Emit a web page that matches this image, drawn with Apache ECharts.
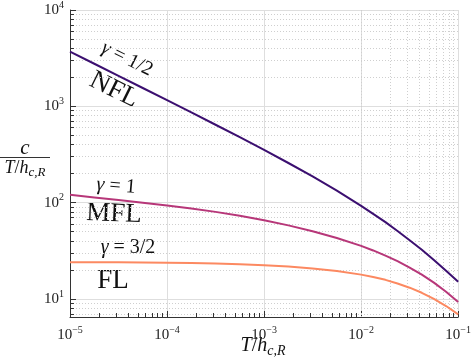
<!DOCTYPE html>
<html><head><meta charset="utf-8">
<script src="https://cdn.jsdelivr.net/npm/echarts@6/dist/echarts.min.js"></script>
<style>html,body{margin:0;padding:0;background:#fff}#c{width:474px;height:364px}</style>
</head><body><div id="c"></div>
<script>
// Data (T/h_{c,R} vs c/(T/h_{c,R}))
const T   = [1e-5, 1.78e-5, 3.16e-5, 5.62e-5, 1e-4, 1.78e-4, 3.16e-4, 5.62e-4, 1e-3, 1.78e-3, 3.16e-3, 5.62e-3,
             1e-2, 1.33e-2, 1.78e-2, 2.37e-2, 3.16e-2, 4.22e-2, 5.62e-2, 7.5e-2, 1e-1];
const NFL = [3690, 2767, 2070, 1549, 1159, 865, 644, 478, 353, 258, 187, 133,
             92.7, 76.6, 62.7, 50.8, 40.7, 32.4, 25.4, 19.6, 15.1];
const MFL = [120.8, 113.4, 106.4, 99.8, 93.3, 86.9, 80.2, 73.1, 65.8, 58.1, 50.4, 42.9,
             35.6, 31.9, 28.2, 24.7, 21.2, 17.9, 14.8, 11.9, 9.31];
const FL  = [24.0, 24.0, 24.0, 23.9, 23.8, 23.7, 23.4, 23.0, 22.4, 21.7, 20.7, 19.5,
             17.9, 16.9, 15.8, 14.5, 13.1, 11.6, 10.0, 8.45, 6.92];
const xMin = 1e-5, xMax = 1e-1, yMin = 6.5, yMax = 1e4;
const xMinor = [];
for (let e = -5; e < -1; e++) for (let k = 2; k <= 9; k++) xMinor.push(k * Math.pow(10, e));
const yMinor = [7, 8, 9];
for (let e = 1; e < 4; e++) for (let k = 2; k <= 9; k++) yMinor.push(k * Math.pow(10, e));

const serif = '"Liberation Serif","DejaVu Serif",serif';
const chart = echarts.init(document.getElementById('c'));
const pow10 = v => {
  const l = Math.log10(v); const r = Math.round(l);
  if (Math.abs(l - r) > 1e-6) return '';
  return '{b|10}{s|' + (r < 0 ? '\u2212' + (-r) : r) + '}';
};
const labRich = {
  b: {fontFamily: serif, fontSize: 15, color: '#222'},
  s: {fontFamily: serif, fontSize: 10, color: '#222', padding: [0, 0, 10, 0]}
};
const gridLines = [];
xMinor.forEach(v => gridLines.push({xAxis: v}));
yMinor.forEach(v => gridLines.push({yAxis: v}));
const tickKx = Math.pow(10, 4 / 98), tickKy = Math.pow(10, 4 / 97);
const minorTicks = [];
xMinor.forEach(v => minorTicks.push([{coord: [v, yMin]}, {coord: [v, yMin * tickKy]}]));
yMinor.forEach(v => minorTicks.push([{coord: [xMin, v]}, {coord: [xMin * tickKx, v]}]));

const mk = (arr) => T.map((t, i) => [t, arr[i]]);
const lineSer = (name, arr, color) => ({
  type: 'line', name, data: mk(arr), smooth: false, symbol: 'none', z: 3,
  lineStyle: {color, width: 2, join: 'round'}
});
const gammaRich = {i: {fontFamily: serif, fontStyle: 'italic', fontSize: 20, fill: '#111'}};
chart.setOption({
  animation: false,
  grid: {left: 70, right: 12, top: 8, bottom: 47},
  xAxis: {
    type: 'log', logBase: 10, min: xMin, max: xMax,
    axisLine: {lineStyle: {color: '#333', width: 1}},
    axisTick: {inside: true, length: 6, lineStyle: {color: '#333'}},
    axisLabel: {formatter: pow10, rich: labRich, margin: 8, showMinLabel: true, showMaxLabel: true},
    splitLine: {show: true, lineStyle: {color: '#dedede', width: 1}}
  },
  yAxis: {
    type: 'log', logBase: 10, min: yMin, max: yMax,
    axisLine: {show: true, lineStyle: {color: '#333', width: 1}},
    axisTick: {show: true, inside: true, length: 6, lineStyle: {color: '#333'}},
    axisLabel: {formatter: pow10, rich: labRich, margin: 6},
    splitLine: {show: true, lineStyle: {color: '#dedede', width: 1}}
  },
  series: [
    {
      type: 'line', data: [[xMin, 10]], symbol: 'none', z: 1, silent: true,
      lineStyle: {opacity: 0},
      markLine: {
        silent: true, symbol: 'none', z: 1, animation: false,
        label: {show: false},
        lineStyle: {color: '#cfcfcf', type: [1, 2], width: 1},
        data: gridLines
      }
    },
    {
      type: 'line', data: [[xMin, 10]], symbol: 'none', z: 2, silent: true,
      lineStyle: {opacity: 0},
      markLine: {
        silent: true, symbol: 'none', z: 2, animation: false,
        label: {show: false},
        lineStyle: {color: '#333', type: 'solid', width: 1},
        data: minorTicks
      }
    },
    lineSer('NFL', NFL, '#3b0f70'),
    lineSer('MFL', MFL, '#b73779'),
    lineSer('FL', FL, '#fc8961')
  ],
  graphic: [
    {type: 'text', x: 127, y: 59, rotation: -0.46, style: {
      text: '{i|γ} = 1/2', rich: gammaRich,
      fontFamily: serif, fontSize: 20, fill: '#111', align: 'center', verticalAlign: 'middle'}},
    {type: 'text', x: 114, y: 90, rotation: -0.46, style: {
      text: 'NFL', fontFamily: serif, fontSize: 27, fill: '#111', align: 'center', verticalAlign: 'middle'}},
    {type: 'text', x: 116, y: 186, rotation: -0.08, style: {
      text: '{i|γ} = 1', rich: gammaRich,
      fontFamily: serif, fontSize: 20, fill: '#111', align: 'center', verticalAlign: 'middle'}},
    {type: 'text', x: 114, y: 214, rotation: -0.04, style: {
      text: 'MFL', fontFamily: serif, fontSize: 27, fill: '#111', align: 'center', verticalAlign: 'middle'}},
    {type: 'text', x: 128, y: 248, style: {
      text: '{i|γ} = 3/2', rich: gammaRich,
      fontFamily: serif, fontSize: 20, fill: '#111', align: 'center', verticalAlign: 'middle'}},
    {type: 'text', x: 113, y: 281, style: {
      text: 'FL', fontFamily: serif, fontSize: 27, fill: '#111', align: 'center', verticalAlign: 'middle'}},
    // y-axis title as a fraction
    {type: 'text', x: 25, y: 148, style: {
      text: 'c', fontFamily: serif, fontStyle: 'italic', fontSize: 21, fill: '#111', align: 'center', verticalAlign: 'middle'}},
    {type: 'rect', shape: {x: 0, y: 157, width: 50, height: 1}, style: {fill: '#333'}},
    {type: 'text', x: 25, y: 168, style: {
      text: '{i|T}/{i|h}{s|c,R}',
      rich: {i: {fontFamily: serif, fontStyle: 'italic', fontSize: 18, fill: '#111'},
             s: {fontFamily: serif, fontStyle: 'italic', fontSize: 13, fill: '#111', padding: [9, 0, 0, 0]}},
      fontFamily: serif, fontSize: 18, fill: '#111', align: 'center', verticalAlign: 'middle'}},
    // x-axis title
    {type: 'text', x: 263, y: 346, style: {
      text: '{i|T}/{i|h}{s|c,R}',
      rich: {i: {fontFamily: serif, fontStyle: 'italic', fontSize: 20, fill: '#111'},
             s: {fontFamily: serif, fontStyle: 'italic', fontSize: 14, fill: '#111', padding: [10, 0, 0, 0]}},
      fontFamily: serif, fontSize: 20, fill: '#111', align: 'center', verticalAlign: 'middle'}}
  ]
});
</script></body></html>
